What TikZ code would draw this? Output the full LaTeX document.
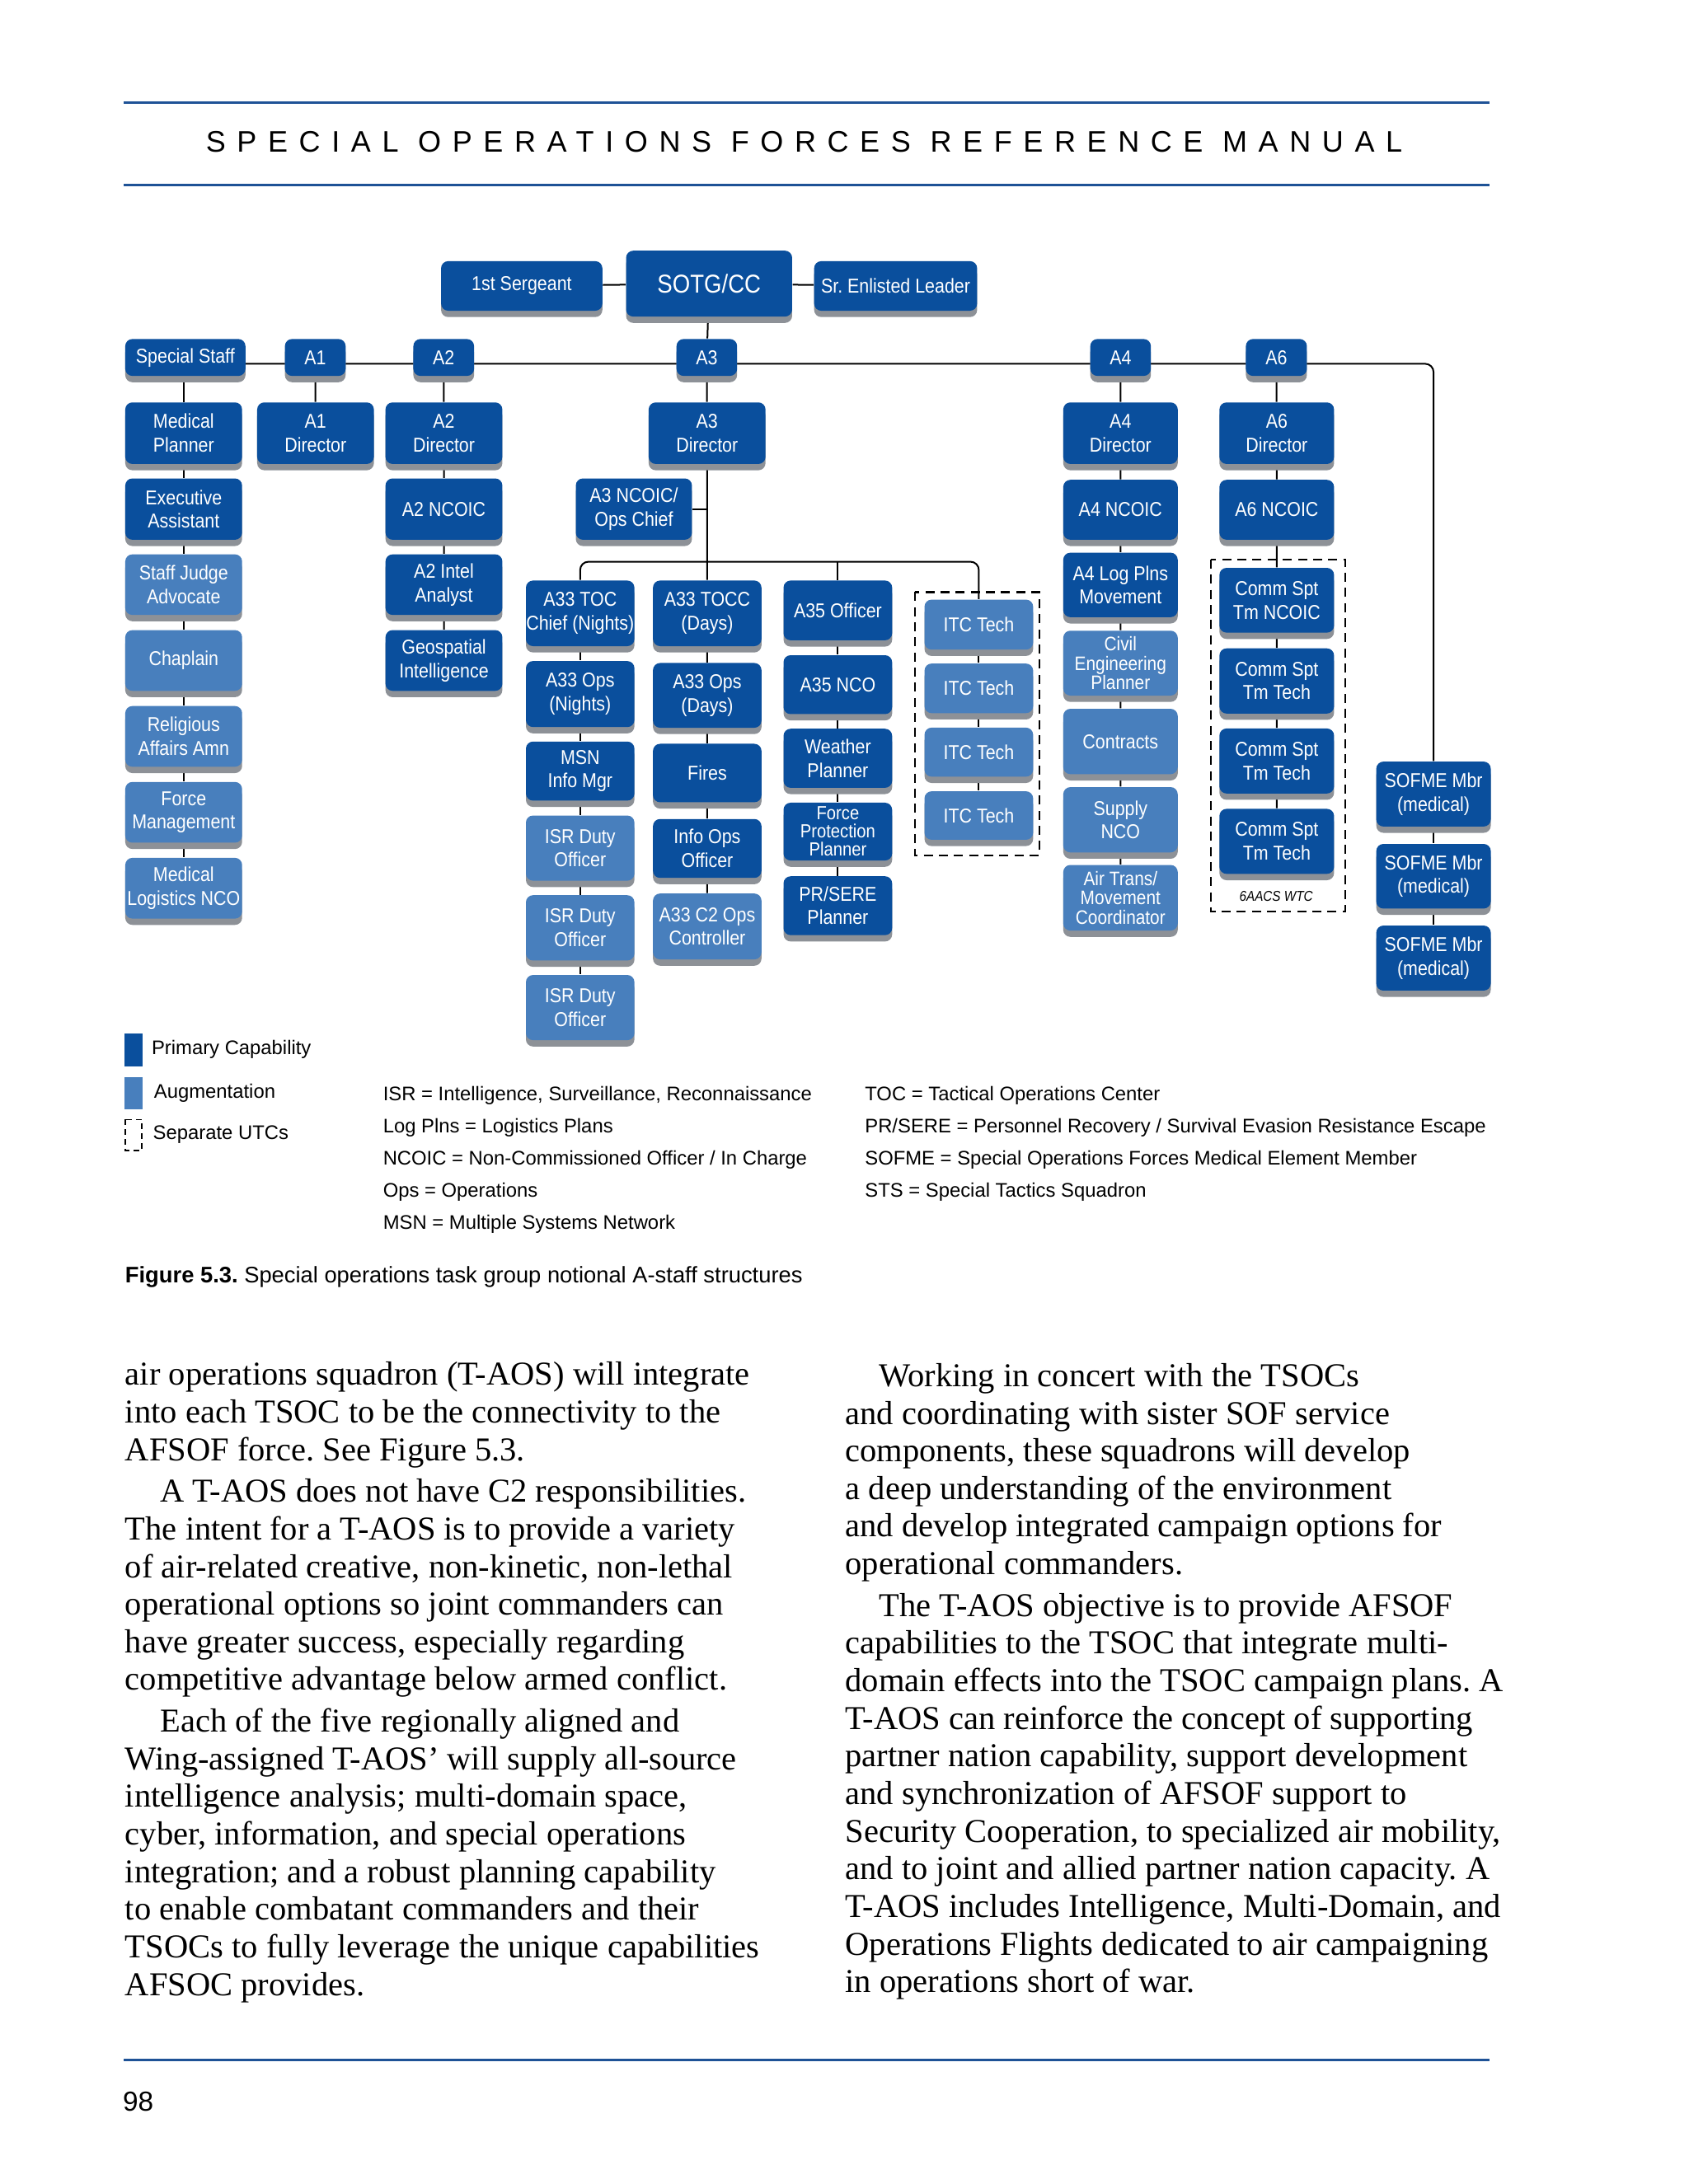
\documentclass[tikz,border=0pt]{standalone}
\usepackage{fontspec}
\setmainfont{Liberation Serif}
\newfontfamily\chartfont[FakeStretch=0.88]{Liberation Sans}
\newfontfamily\sansf{Liberation Sans}
\newfontfamily\headfont[LetterSpace=37.8]{Liberation Sans}
\usetikzlibrary{shadows}
\definecolor{prim}{RGB}{10,79,157}
\definecolor{aug}{RGB}{72,127,189}
\definecolor{shgray}{RGB}{141,145,151}
\definecolor{rulec}{RGB}{30,82,150}
\pgfdeclarelayer{bg}
\pgfsetlayers{bg,main}
\frenchspacing
\tikzset{
  boxbase/.style={rounded corners=2.6pt, inner sep=0pt, align=center, text=white,
    font=\chartfont\fontsize{7.3}{8.6}\selectfont,
    drop shadow={shadow xshift=0pt, shadow yshift=-2.3pt, fill=shgray, opacity=1}},
  pbox/.style={boxbase, fill=prim},
  abox/.style={boxbase, fill=aug},
  threel/.style={font=\chartfont\fontsize{7.1}{7.1}\selectfont},
  threes/.style={font=\chartfont\fontsize{6.9}{6.6}\selectfont},
  link/.style={line width=0.6pt, black},
  utc/.style={line width=0.7pt, dash pattern=on 3.3pt off 2.2pt},
  body/.style={anchor=base west, inner sep=0pt, font=\frenchspacing\fontsize{12.15}{13.7}\selectfont},
  legtxt/.style={anchor=west, inner sep=0pt, font=\sansf\fontsize{7.15}{9}\selectfont},
}
\newcommand\bx[7]{\node[#1, minimum width={(#5-#3)*0.50685pt}, minimum height={(#6-#4)*0.50685pt}] (#2) at ({(#3+#5)/2},{(#4+#6)/2}) {#7};}
\newcommand\bl[3]{\node[body] at ({#1},{#2+6.5}) {#3};}
\begin{document}
\begin{tikzpicture}[x=0.50685pt,y=-0.50685pt]
\useasboundingbox (0,0) rectangle (1212,1568);
\begin{pgfonlayer}{bg}
\fill[white] (0,0) rectangle (1212,1568);
\end{pgfonlayer}

% header
\draw[rulec, line width=0.9pt] (89,73.4) -- (1069,73.4);
\draw[rulec, line width=0.9pt] (89,132.7) -- (1069,132.7);
\node[anchor=base west, inner sep=0pt, font=\headfont\fontsize{10.8}{12}\selectfont] (head) at (147.4,108.9) {SPECIAL OPERATIONS FORCES REFERENCE MANUAL};

% top row
\bx{pbox}{sgt}{316.6}{187.5}{432.4}{223.1}{1st Sergeant}
\bx{pbox,font=\chartfont\fontsize{9.4}{11}\selectfont}{sotg}{449.4}{180}{568.6}{227.3}{SOTG/CC}
\bx{pbox}{sel}{584.4}{187.5}{701.4}{223.1}{Sr. Enlisted Leader}
% header row
\bx{pbox}{ss}{89.9}{243.4}{176.2}{269.9}{Special Staff}
\bx{pbox}{a1}{204.5}{243.4}{248.1}{269.9}{A1}
\bx{pbox}{a2}{296.7}{243.4}{340.3}{269.9}{A2}
\bx{pbox}{a3}{485.6}{243.4}{529.1}{269.9}{A3}
\bx{pbox}{a4}{782.6}{243.4}{826.1}{269.9}{A4}
\bx{pbox}{a6}{894.3}{243.4}{938.1}{269.9}{A6}
% directors
\bx{pbox}{mp}{89.9}{288.9}{173.8}{333.1}{Medical\\Planner}
\bx{pbox}{a1d}{184.6}{288.9}{268.4}{333.1}{A1\\Director}
\bx{pbox}{a2d}{276.7}{288.9}{360.6}{333.1}{A2\\Director}
\bx{pbox}{a3d}{465.6}{288.9}{549.5}{333.1}{A3\\Director}
\bx{pbox}{a4d}{763.2}{288.9}{845.4}{333.1}{A4\\Director}
\bx{pbox}{a6d}{875.3}{288.9}{957.6}{333.1}{A6\\Director}
% special staff column
\bx{pbox}{ea}{89.9}{343.5}{173.8}{387.5}{Executive\\Assistant}
\bx{abox}{sja}{89.9}{398}{173.8}{441.5}{Staff Judge\\Advocate}
\bx{abox}{chap}{89.9}{452.4}{173.8}{496}{Chaplain}
\bx{abox}{raa}{89.9}{506.9}{173.8}{550.5}{Religious\\Affairs Amn}
\bx{abox}{fm}{89.9}{561.4}{173.8}{605}{Force\\Management}
\bx{abox}{mln}{89.9}{615.9}{173.8}{659.5}{Medical\\Logistics NCO}
% A2 column
\bx{pbox}{a2n}{276.7}{343.5}{360.6}{387.5}{A2 NCOIC}
\bx{pbox}{a2ia}{276.7}{398}{360.6}{441.5}{A2 Intel\\Analyst}
\bx{pbox}{geo}{276.7}{452.4}{360.6}{496}{Geospatial\\Intelligence}
% A3
\bx{pbox}{a3n}{413.3}{343.5}{496.7}{387.5}{A3 NCOIC/\\Ops Chief}
\bx{pbox}{toc}{377.5}{416.8}{455.4}{463.9}{A33 TOC\\Chief (Nights)}
\bx{pbox}{opsn}{377.5}{474.6}{455.4}{522}{A33 Ops\\(Nights)}
\bx{pbox}{msn}{377.5}{532.4}{455.4}{574.8}{MSN\\Info Mgr}
\bx{abox}{isr1}{377.5}{585.5}{455.4}{632.3}{ISR Duty\\Officer}
\bx{abox}{isr2}{377.5}{642.7}{455.4}{689.6}{ISR Duty\\Officer}
\bx{abox}{isr3}{377.5}{700}{455.4}{746.8}{ISR Duty\\Officer}
\bx{pbox}{tocc}{468.7}{416.8}{546.6}{463.9}{A33 TOCC\\(Days)}
\bx{pbox}{opsd}{468.7}{476}{546.6}{522.5}{A33 Ops\\(Days)}
\bx{pbox}{fires}{468.7}{534}{546.6}{576}{Fires}
\bx{pbox}{iop}{468.7}{588}{546.6}{630.3}{Info Ops\\Officer}
\bx{abox}{c2}{468.7}{641.5}{546.6}{688.8}{A33 C2 Ops\\Controller}
\bx{pbox}{a35o}{562.4}{416.8}{640.4}{459.7}{A35 Officer}
\bx{pbox}{a35n}{562.4}{470.4}{640.4}{512.7}{A35 NCO}
\bx{pbox}{wx}{562.4}{523.2}{640.4}{565.6}{Weather\\Planner}
\bx{pbox,threes}{fp}{562.4}{576.3}{640.4}{617.8}{Force\\Protection\\Planner}
\bx{pbox}{pr}{562.4}{629.1}{640.4}{671.4}{PR/SERE\\Planner}
\bx{abox}{itc1}{663.6}{430.5}{741.6}{466.4}{ITC Tech}
\bx{abox}{itc2}{663.6}{476.4}{741.6}{512}{ITC Tech}
\bx{abox}{itc3}{663.6}{522.4}{741.6}{557.6}{ITC Tech}
\bx{abox}{itc4}{663.6}{568.1}{741.6}{602.9}{ITC Tech}
% A4
\bx{pbox}{a4n}{763.2}{344.5}{845.4}{387.5}{A4 NCOIC}
\bx{pbox}{a4lp}{763.2}{396.8}{845.4}{443.1}{A4 Log Plns\\Movement}
\bx{abox,threel}{ce}{763.2}{452.8}{845.4}{499.4}{Civil\\Engineering\\Planner}
\bx{abox}{con}{763.2}{508.9}{845.4}{555.8}{Contracts}
\bx{abox}{sup}{763.2}{565.1}{845.4}{612}{Supply\\NCO}
\bx{abox,threel}{air}{763.2}{621}{845.4}{668.1}{Air Trans/\\Movement\\Coordinator}
% A6
\bx{pbox}{a6n}{875.3}{344.5}{957.6}{387.5}{A6 NCOIC}
\bx{pbox}{cs1}{875.3}{407.7}{957.6}{454.2}{Comm Spt\\Tm NCOIC}
\bx{pbox}{cs2}{875.3}{465.5}{957.6}{512.3}{Comm Spt\\Tm Tech}
\bx{pbox}{cs3}{875.3}{523}{957.6}{569.7}{Comm Spt\\Tm Tech}
\bx{pbox}{cs4}{875.3}{580.7}{957.6}{627.4}{Comm Spt\\Tm Tech}
\node[font=\chartfont\itshape\fontsize{5.2}{6}\selectfont, inner sep=0pt] (wtc) at (916,643.7) {6AACS WTC};
% SOFME
\bx{pbox}{so1}{987.9}{546.8}{1070.1}{593.4}{SOFME Mbr\\(medical)}
\bx{pbox}{so2}{987.9}{605.9}{1070.1}{652.3}{SOFME Mbr\\(medical)}
\bx{pbox}{so3}{987.9}{664.5}{1070.1}{711.2}{SOFME Mbr\\(medical)}

% separate UTC frames
\draw[utc] (656.8,425.1) rectangle (746.1,614.1);
\draw[utc] (869.3,401.8) rectangle (965.6,654.6);

% connectors
\coordinate (hl) at (0,261.2);
\coordinate (br) at (0,403.3);
\begin{pgfonlayer}{bg}
\draw[link] (sgt) -- (sotg);
\draw[link] (sotg) -- (sel);
\draw[link] (sotg) -- (a3);
\draw[link, rounded corners=3pt] (ss |- hl) -- (so1 |- hl) -- (so1);
\draw[link] (mp |- ss) -- (mp) -- (ea) -- (sja) -- (chap) -- (raa) -- (fm) -- (mln);
\draw[link] (a1) -- (a1d);
\draw[link] (a2) -- (a2d) -- (a2n) -- (a2ia) -- (geo);
\draw[link] (a3) -- (a3d) -- (tocc) -- (opsd) -- (fires) -- (iop) -- (c2);
\draw[link] (a3n) -- (a3n -| a3d);
\draw[link, rounded corners=3pt] (toc) -- (toc |- br) -- (itc1 |- br) -- (itc1);
\draw[link] (a35o) -- (a35o |- br);
\draw[link] (toc) -- (opsn) -- (msn) -- (isr1) -- (isr2) -- (isr3);
\draw[link] (a35o) -- (a35n) -- (wx) -- (fp) -- (pr);
\draw[link] (itc1) -- (itc2) -- (itc3) -- (itc4);
\draw[link] (a4) -- (a4d) -- (a4n) -- (a4lp) -- (ce) -- (con) -- (sup) -- (air);
\draw[link] (a6) -- (a6d) -- (a6n) -- (cs1) -- (cs2) -- (cs3) -- (cs4);
\draw[link] (so1) -- (so2) -- (so3);
\end{pgfonlayer}

% legend
\fill[prim] (89.4,742.1) rectangle (102.2,765.4);
\fill[aug] (89.4,773.3) rectangle (102.2,796.5);
\draw[line width=0.5pt, dash pattern=on 2pt off 1.6pt] (89.9,803.8) rectangle (101.7,826.2);
\node[legtxt] (lg1) at (108.5,753.5) {Primary Capability};
\node[legtxt] (lg2) at (110.2,784.7) {Augmentation};
\node[legtxt] (lg3) at (109.5,814.7) {Separate UTCs};
\node[legtxt] (ab1) at (274.6,786.7) {ISR = Intelligence, Surveillance, Reconnaissance};
\node[legtxt] (ab2) at (274.6,809.8) {Log Plns = Logistics Plans};
\node[legtxt] (ab3) at (274.6,832.9) {NCOIC = Non-Commissioned Officer / In Charge};
\node[legtxt] (ab4) at (274.6,856.0) {Ops = Operations};
\node[legtxt] (ab5) at (274.6,879.1) {MSN = Multiple Systems Network};
\node[legtxt] (ab6) at (620.5,786.7) {TOC = Tactical Operations Center};
\node[legtxt] (ab7) at (620.5,809.8) {PR/SERE = Personnel Recovery / Survival Evasion Resistance Escape};
\node[legtxt] (ab8) at (620.5,832.9) {SOFME = Special Operations Forces Medical Element Member};
\node[legtxt] (ab9) at (620.5,856.0) {STS = Special Tactics Squadron};

% caption
\node[anchor=west, inner sep=0pt, font=\sansf\fontsize{8.2}{10}\selectfont] (cap) at (89.5,917) {\textbf{Figure 5.3.} Special operations task group notional A-staff structures};

% body text left column
\bl{89.5}{988}{air operations squadron (T-AOS) will integrate}
\bl{89.5}{1015}{into each TSOC to be the connectivity to the}
\bl{89.5}{1042}{AFSOF force. See Figure 5.3.}
\bl{114.6}{1072}{A T-AOS does not have C2 responsibilities.}
\bl{89.5}{1099}{The intent for a T-AOS is to provide a variety}
\bl{89.5}{1126}{of air-related creative, non-kinetic, non-lethal}
\bl{89.5}{1153}{operational options so joint commanders can}
\bl{89.5}{1180}{have greater success, especially regarding}
\bl{89.5}{1207}{competitive advantage below armed conflict.}
\bl{114.6}{1237}{Each of the five regionally aligned and}
\bl{89.5}{1264}{Wing-assigned T-AOS’ will supply all-source}
\bl{89.5}{1291}{intelligence analysis; multi-domain space,}
\bl{89.5}{1318}{cyber, information, and special operations}
\bl{89.5}{1345}{integration; and a robust planning capability}
\bl{89.5}{1372}{to enable combatant commanders and their}
\bl{89.5}{1399}{TSOCs to fully leverage the unique capabilities}
\bl{89.5}{1426}{AFSOC provides.}
% body text right column
\bl{630.5}{989}{Working in concert with the TSOCs}
\bl{606.5}{1016}{and coordinating with sister SOF service}
\bl{606.5}{1043}{components, these squadrons will develop}
\bl{606.5}{1070}{a deep understanding of the environment}
\bl{606.5}{1097}{and develop integrated campaign options for}
\bl{606.5}{1124}{operational commanders.}
\bl{630.5}{1154}{The T-AOS objective is to provide AFSOF}
\bl{606.5}{1181}{capabilities to the TSOC that integrate multi-}
\bl{606.5}{1208}{domain effects into the TSOC campaign plans. A}
\bl{606.5}{1235}{T-AOS can reinforce the concept of supporting}
\bl{606.5}{1262}{partner nation capability, support development}
\bl{606.5}{1289}{and synchronization of AFSOF support to}
\bl{606.5}{1316}{Security Cooperation, to specialized air mobility,}
\bl{606.5}{1343}{and to joint and allied partner nation capacity. A}
\bl{606.5}{1370}{T-AOS includes Intelligence, Multi-Domain, and}
\bl{606.5}{1397}{Operations Flights dedicated to air campaigning}
\bl{606.5}{1424}{in operations short of war.}

% footer
\draw[rulec, line width=0.9pt] (89,1479.1) -- (1069,1479.1);
\node[anchor=west, inner sep=0pt, font=\sansf\fontsize{10}{12}\selectfont] (pg) at (87.8,1508.6) {98};
\end{tikzpicture}
\end{document}
